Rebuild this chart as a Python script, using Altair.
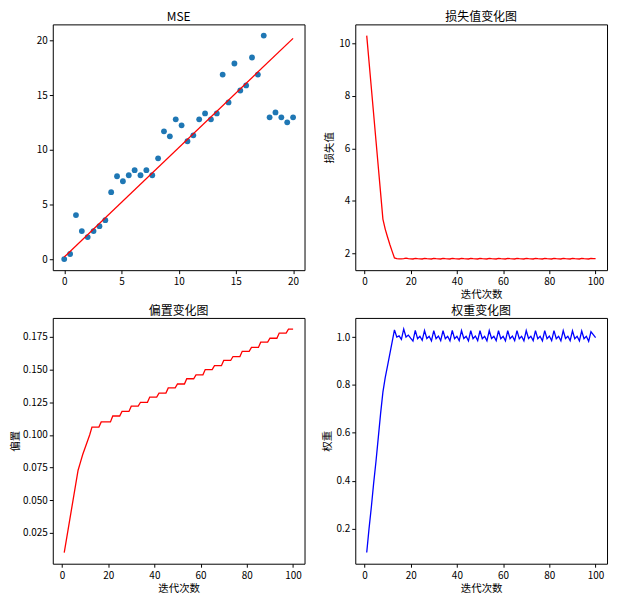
import altair as alt
import pandas as pd

# ---------------- data ----------------
scatter_x = [0.0, 0.513, 1.026, 1.538, 2.051, 2.564, 3.077, 3.590, 4.103, 4.615,
             5.128, 5.641, 6.154, 6.667, 7.179, 7.692, 8.205, 8.718, 9.231, 9.744,
             10.256, 10.769, 11.282, 11.795, 12.308, 12.821, 13.333, 13.846, 14.359, 14.872,
             15.385, 15.897, 16.410, 16.923, 17.436, 17.949, 18.462, 18.974, 19.487, 20.0]
scatter_y = [0.0, 0.46, 4.02, 2.56, 2.01, 2.56, 3.01, 3.56, 6.12, 7.58,
             7.12, 7.67, 8.13, 7.67, 8.13, 7.67, 9.22, 11.69, 11.23, 12.79,
             12.24, 10.78, 11.32, 12.79, 13.33, 12.79, 13.33, 16.89, 14.34, 17.90,
             15.43, 15.89, 18.45, 16.89, 20.46, 12.97, 13.42, 12.97, 12.51, 12.97]
fit_x = [0.0, 20.0]
fit_y = [0.18, 20.2]

iterations = list(range(1, 101))
loss = [10.3, 9.3, 8.3, 7.3, 6.3, 5.3, 4.3, 3.3, 2.92, 2.62,
        2.33, 2.07, 1.82, 1.795, 1.785, 1.78, 1.79, 1.81, 1.79, 1.785,
        1.78, 1.805, 1.79, 1.785, 1.78, 1.805, 1.79, 1.785, 1.78, 1.805,
        1.79, 1.785, 1.78, 1.805, 1.79, 1.785, 1.78, 1.805, 1.79, 1.785,
        1.78, 1.805, 1.79, 1.785, 1.78, 1.805, 1.79, 1.785, 1.78, 1.805,
        1.79, 1.785, 1.78, 1.805, 1.79, 1.785, 1.78, 1.805, 1.79, 1.785,
        1.78, 1.805, 1.79, 1.785, 1.78, 1.805, 1.79, 1.785, 1.78, 1.805,
        1.79, 1.785, 1.78, 1.805, 1.79, 1.785, 1.78, 1.805, 1.79, 1.785,
        1.78, 1.805, 1.79, 1.785, 1.78, 1.805, 1.79, 1.785, 1.78, 1.805,
        1.79, 1.785, 1.78, 1.805, 1.79, 1.785, 1.78, 1.805, 1.79, 1.79]
bias = [0.010, 0.0205, 0.031, 0.0415, 0.052, 0.0625, 0.073, 0.079, 0.085, 0.090,
        0.095, 0.100, 0.106, 0.106, 0.106, 0.106, 0.110, 0.110, 0.110, 0.110,
        0.110, 0.1145, 0.1145, 0.1145, 0.1145, 0.118, 0.118, 0.118, 0.118, 0.122,
        0.122, 0.122, 0.122, 0.125, 0.125, 0.125, 0.125, 0.129, 0.129, 0.129,
        0.129, 0.132, 0.132, 0.132, 0.132, 0.136, 0.136, 0.136, 0.136, 0.139,
        0.139, 0.139, 0.139, 0.143, 0.143, 0.143, 0.143, 0.146, 0.146, 0.146,
        0.146, 0.150, 0.150, 0.150, 0.150, 0.153, 0.153, 0.153, 0.153, 0.157,
        0.157, 0.157, 0.157, 0.160, 0.160, 0.160, 0.160, 0.164, 0.164, 0.164,
        0.164, 0.167, 0.167, 0.167, 0.167, 0.171, 0.171, 0.171, 0.171, 0.174,
        0.174, 0.174, 0.174, 0.178, 0.178, 0.178, 0.178, 0.181, 0.181, 0.181]
weight = [0.10, 0.20, 0.29, 0.39, 0.48, 0.58, 0.68, 0.77, 0.83, 0.88,
          0.93, 0.98, 1.03, 1.00, 1.005, 0.99, 1.033, 1.00, 1.008, 0.995,
          0.983, 1.028, 0.993, 1.003, 0.986, 1.027, 0.994, 1.003, 0.984, 1.027,
          0.993, 1.004, 0.985, 1.027, 0.993, 1.003, 0.984, 1.028, 0.993, 1.003,
          0.985, 1.027, 0.994, 1.003, 0.984, 1.027, 0.993, 1.004, 0.985, 1.027,
          0.993, 1.003, 0.984, 1.027, 0.994, 1.003, 0.985, 1.027, 0.993, 1.003,
          0.984, 1.027, 0.993, 1.004, 0.985, 1.027, 0.993, 1.003, 0.984, 1.027,
          0.994, 1.003, 0.985, 1.027, 0.993, 1.003, 0.984, 1.027, 0.993, 1.004,
          0.985, 1.027, 0.993, 1.003, 0.984, 1.027, 0.994, 1.003, 0.985, 1.026,
          0.993, 1.003, 0.984, 1.025, 0.993, 1.003, 0.982, 1.022, 1.010, 0.997]

FONT = "Noto Sans CJK SC"
W, H = 253, 247

def title(t):
    return alt.TitleParams(t, fontSize=12, fontWeight="normal", font=FONT,
                           color="black", offset=0, anchor="middle")

def axis(t, values, fmt, pad, lpad=2):
    kw = dict(values=values, format=fmt, labelFlush=False, labelOverlap=False,
              tickSize=3.5, tickColor="black", labelColor="black", labelFontSize=10,
              labelFont=FONT, labelPadding=lpad, domain=False, grid=False)
    if t:
        kw.update(title=t, titleFont=FONT, titleFontSize=10.5, titleFontWeight="normal",
                  titleColor="black", titlePadding=pad)
    else:
        kw.update(title=None)
    return alt.Axis(**kw)

# ---------------- panel 1: MSE ----------------
df_sc = pd.DataFrame({"x": scatter_x, "y": scatter_y})
df_fit = pd.DataFrame({"x": fit_x, "y": fit_y})
xs1 = alt.Scale(domain=[-1.0, 21.0], nice=False, zero=False)
ys1 = alt.Scale(domain=[-1.02, 21.48], nice=False, zero=False)
pts = alt.Chart(df_sc).mark_circle(size=34, color="#1f77b4", opacity=1).encode(
    x=alt.X("x:Q", scale=xs1, axis=axis(None, [0, 5, 10, 15, 20], "d", 0, 3)),
    y=alt.Y("y:Q", scale=ys1, axis=axis(None, [0, 5, 10, 15, 20], "d", 0)),
)
fit = alt.Chart(df_fit).mark_line(color="red", strokeWidth=1.3).encode(
    x=alt.X("x:Q", scale=xs1), y=alt.Y("y:Q", scale=ys1)
)
p1 = alt.layer(pts, fit).properties(width=W, height=H, title=title("MSE"))

# ---------------- line panels ----------------
df_it = pd.DataFrame({"it": iterations, "loss": loss, "bias": bias, "weight": weight})
xs = alt.Scale(domain=[-3.95, 104.95], nice=False, zero=False)
xvals = [0, 20, 40, 60, 80, 100]

p2 = alt.Chart(df_it).mark_line(color="red", strokeWidth=1.3).encode(
    x=alt.X("it:Q", scale=xs, axis=axis("迭代次数", xvals, "d", 3, 3)),
    y=alt.Y("loss:Q", scale=alt.Scale(domain=[1.353, 10.727], nice=False, zero=False),
            axis=axis("损失值", [2, 4, 6, 8, 10], "d", 4)),
).properties(width=W, height=H, title=title("损失值变化图"))

p3 = alt.Chart(df_it).mark_line(color="red", strokeWidth=1.3).encode(
    x=alt.X("it:Q", scale=xs, axis=axis("迭代次数", xvals, "d", 3, 3)),
    y=alt.Y("bias:Q", scale=alt.Scale(domain=[0.00145, 0.18955], nice=False, zero=False),
            axis=axis("偏置", [0.025, 0.05, 0.075, 0.1, 0.125, 0.15, 0.175], ".3f", 2)),
).properties(width=W, height=H, title=title("偏置变化图"))

p4 = alt.Chart(df_it).mark_line(color="blue", strokeWidth=1.3).encode(
    x=alt.X("it:Q", scale=xs, axis=axis("迭代次数", xvals, "d", 3, 3)),
    y=alt.Y("weight:Q", scale=alt.Scale(domain=[0.0533, 1.0797], nice=False, zero=False),
            axis=axis("权重", [0.2, 0.4, 0.6, 0.8, 1.0], ".1f", 4)),
).properties(width=W, height=H, title=title("权重变化图"))

chart = alt.concat(p1, p2, p3, p4, columns=2, spacing={"row": 48, "column": 51},
                   bounds="flush").properties(
    padding={"left": 2, "top": 1, "right": 5, "bottom": 5}
).configure(background="white").configure_view(stroke="black", strokeWidth=1)

chart.save("out.html", embed_options={"renderer": "svg", "actions": False})
